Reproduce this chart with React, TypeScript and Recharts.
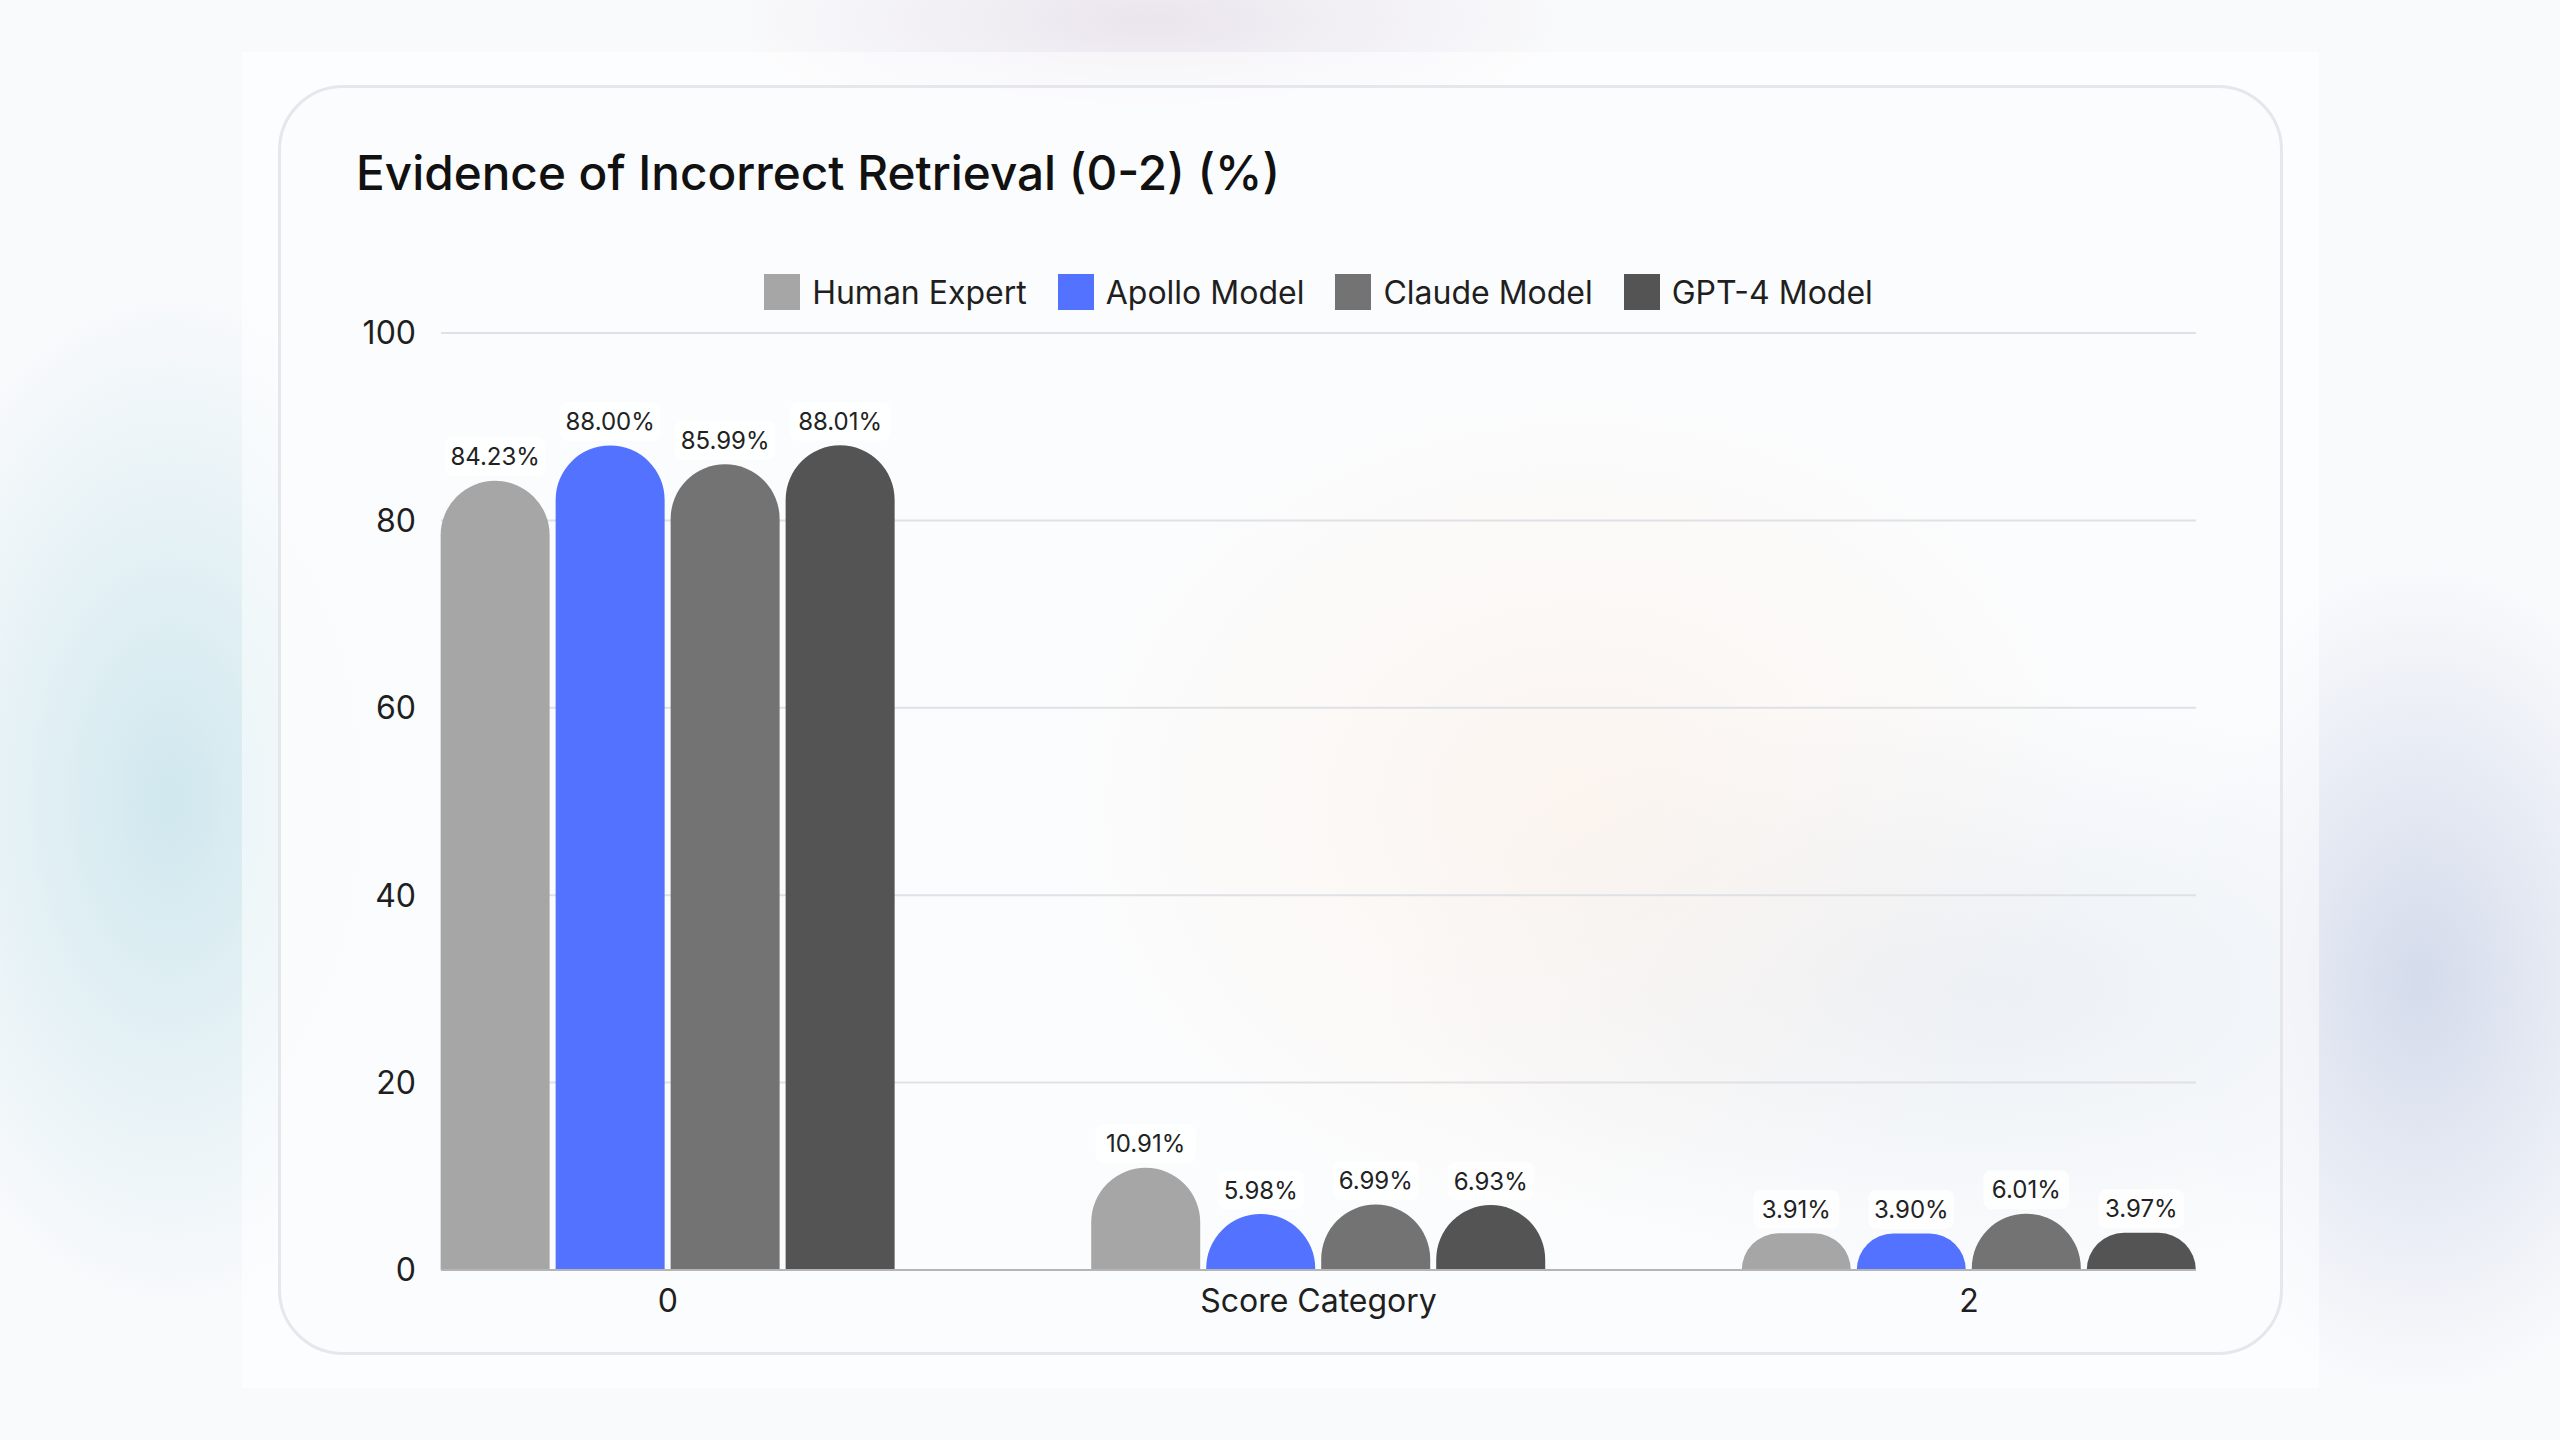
import React from "react";
import { BarChart, Bar, XAxis, YAxis, CartesianGrid, Legend, LabelList } from "recharts";

const scoreCategories = [0, 1, 2];
const tickLabels = ["0", "Score Category", "2"];
const humanExpert = [84.23, 10.91, 3.91];
const apolloModel = [88.0, 5.98, 3.9];
const claudeModel = [85.99, 6.99, 6.01];
const gpt4Model = [88.01, 6.93, 3.97];
const yTicks = [0, 20, 40, 60, 80, 100];

const series = [
  { key: "human", name: "Human Expert", color: "#a6a6a6", values: humanExpert },
  { key: "apollo", name: "Apollo Model", color: "#5272ff", values: apolloModel },
  { key: "claude", name: "Claude Model", color: "#737373", values: claudeModel },
  { key: "gpt4", name: "GPT-4 Model", color: "#545454", values: gpt4Model },
];

const data = scoreCategories.map((score, i) => {
  const row: any = { score };
  series.forEach((s) => {
    row[s.key] = s.values[i];
  });
  return row;
});

const FONT = "Inter, 'Noto Sans', sans-serif";

// rounded top like css border-radius: radius shrinks to the bar height on short bars
function DomeBar(props: any) {
  const { x, y, width, height, fill } = props;
  if (!height || height <= 0) return null;
  const r = Math.min(width / 2, height);
  const d = `M${x},${y + height} L${x},${y + r} A${r},${r} 0 0 1 ${x + r},${y} L${x + width - r},${y} A${r},${r} 0 0 1 ${x + width},${y + r} L${x + width},${y + height} Z`;
  return <path d={d} fill={fill} />;
}

function ValueLabel(props: any) {
  const { x, y, width, value } = props;
  const text = Number(value).toFixed(2) + "%";
  const cx = x + width / 2;
  const cy = y - 24;
  const w = text.length * 14.4 + 14;
  return (
    <g>
      <rect x={cx - w / 2} y={cy - 19.5} width={w} height={39} rx={8} fill="#ffffff" fillOpacity={0.8} />
      <text x={cx} y={cy} dy="0.36em" textAnchor="middle" fontSize={24} fill="#222222" fontFamily={FONT}>
        {text}
      </text>
    </g>
  );
}

// legend follows the series order, not the sorted payload
function LegendRow() {
  return (
    <div style={{ display: "flex", justifyContent: "center", alignItems: "center", height: 44, gap: 31 }}>
      {series.map((s) => (
        <div key={s.key} style={{ display: "flex", alignItems: "center" }}>
          <div style={{ width: 36, height: 36, background: s.color, marginRight: 12 }} />
          <span style={{ fontSize: 32, color: "#1f1f1f", fontFamily: FONT }}>{s.name}</span>
        </div>
      ))}
    </div>
  );
}

export default function App() {
  return (
    <div
      style={{
        position: "absolute",
        left: 0,
        top: 0,
        width: 2560,
        height: 1440,
        overflow: "hidden",
        fontFamily: FONT,
        background:
          "radial-gradient(ellipse 300px 520px at 170px 800px, rgba(190,224,232,0.7), rgba(190,224,232,0) 100%)," +
          "radial-gradient(ellipse 280px 420px at 2420px 980px, rgba(196,206,228,0.7), rgba(196,206,228,0) 100%)," +
          "radial-gradient(ellipse 420px 120px at 1150px 20px, rgba(225,215,228,0.6), rgba(225,215,228,0) 100%)," +
          "#f9fafc",
      }}
    >
      <div
        style={{
          position: "absolute",
          left: 242,
          top: 52,
          width: 2077,
          height: 1336,
          background: "rgba(255,255,255,0.5)",
        }}
      />
      <div
        style={{
          position: "absolute",
          left: 278,
          top: 85,
          width: 2005,
          height: 1270,
          boxSizing: "border-box",
          borderRadius: 65,
          border: "3px solid #e5e7eb",
          background:
            "radial-gradient(ellipse 520px 420px at 1300px 720px, rgba(252,238,228,0.55), rgba(252,238,228,0) 100%)," +
            "radial-gradient(ellipse 600px 300px at 1700px 900px, rgba(225,232,240,0.6), rgba(225,232,240,0) 100%)," +
            "rgba(250,251,253,0.85)",
        }}
      />
      <div
        style={{
          position: "absolute",
          left: 356,
          top: 150,
          fontSize: 47.7,
          lineHeight: 1,
          fontWeight: 500,
          color: "#111111",
          whiteSpace: "nowrap",
        }}
      >
        Evidence of Incorrect Retrieval (0-2) (%)
      </div>
      <div style={{ position: "absolute", left: 0, top: 0 }}>
        <BarChart
          width={2560}
          height={1440}
          data={data}
          margin={{ top: 333, right: 364, bottom: 110, left: 341 }}
          barSize={109}
          barGap={6}
        >
          <CartesianGrid vertical={false} stroke="#dfe1e5" strokeWidth={2} />
          <XAxis
            dataKey="score"
            type="number"
            domain={[-0.3488, 2.3488]}
            ticks={scoreCategories}
            tickFormatter={(v: number) => tickLabels[v]}
            height={60}
            tickLine={false}
            tickMargin={13}
            stroke="#b5b5b5"
            strokeWidth={2}
            tick={{ fontSize: 32, fill: "#1f1f1f", fontFamily: FONT }}
          />
          <YAxis
            domain={[0, 100]}
            ticks={yTicks}
            width={100}
            axisLine={false}
            tickLine={false}
            tickMargin={19}
            tick={{ fontSize: 32, fill: "#1f1f1f", fontFamily: FONT }}
          />
          <Legend
            layout="horizontal"
            verticalAlign="middle"
            align="center"
            content={<LegendRow />}
            wrapperStyle={{ top: 270, left: 441, width: 1755 }}
          />
          {series.map((s) => (
            <Bar key={s.key} dataKey={s.key} name={s.name} fill={s.color} shape={<DomeBar />} isAnimationActive={false}>
              <LabelList dataKey={s.key} content={<ValueLabel />} />
            </Bar>
          ))}
        </BarChart>
      </div>
    </div>
  );
}
